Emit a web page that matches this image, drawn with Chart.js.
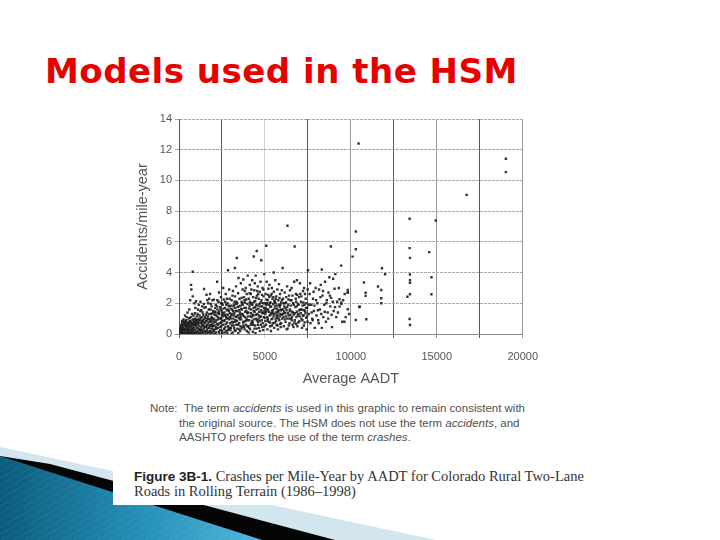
<!DOCTYPE html>
<html>
<head>
<meta charset="utf-8">
<title>Models used in the HSM</title>
<script src="https://cdn.jsdelivr.net/npm/chart.js@4.4.1/dist/chart.umd.min.js"></script>
<style>
body{margin:0;width:720px;height:540px;overflow:hidden;background:#fff;position:relative;font-family:"Liberation Sans",Arial,sans-serif}
#deco{position:absolute;left:0;top:0}
#figure{position:absolute;left:113px;top:95px;width:477px;height:410px;background:#fff}
h1{position:absolute;left:45px;top:51px;margin:0;font:bold 34px "DejaVu Sans",Verdana,sans-serif;letter-spacing:0.5px;color:#e60000;white-space:nowrap}
#plot{position:absolute;left:120px;top:100px;width:430px;height:295px}
.note{position:absolute;left:150px;top:401px;font-size:11.5px;line-height:14.5px;color:#505050;white-space:nowrap}
.note div{padding-left:29px}
.note div.first{padding-left:0}
.caption{position:absolute;left:134px;top:469px;font:14.5px "Liberation Serif","Times New Roman",serif;line-height:14.3px;color:#333;white-space:nowrap}
.caption b{font:bold 13.5px "Liberation Sans",Arial,sans-serif;color:#222}
</style>
</head>
<body>
<svg id="deco" width="720" height="540">
  <defs>
    <linearGradient id="blue" x1="0" y1="0" x2="1" y2="0">
      <stop offset="0" stop-color="#0b5c7c"/>
      <stop offset="0.55" stop-color="#2590b8"/>
      <stop offset="1" stop-color="#52b6dc"/>
    </linearGradient>
    <pattern id="hatch" width="6" height="6" patternUnits="userSpaceOnUse" patternTransform="rotate(60)">
      <line x1="0" y1="0" x2="0" y2="6" stroke="#ffffff" stroke-opacity="0.12" stroke-width="1"/>
    </pattern>
  </defs>
  <polygon points="0,447 436,540 0,540" fill="#d3e6ef"/>
  <polygon points="50,464 335,540 0,540 0,456" fill="#050505"/>
  <polygon points="0,456 262,540 0,540" fill="url(#blue)"/>
  <polygon points="0,456 262,540 0,540" fill="url(#hatch)"/>
</svg>
<div id="figure"></div>
<h1>Models used in the HSM</h1>
<div id="plot"><canvas id="scatterChart"></canvas></div>
<div class="note">
  <div class="first">Note:&nbsp; The term <i>accidents</i> is used in this graphic to remain consistent with</div>
  <div>the original source. The HSM does not use the term <i>accidents</i>, and</div>
  <div>AASHTO prefers the use of the term <i>crashes</i>.</div>
</div>
<div class="caption">
  <b>Figure 3B-1.</b> Crashes per Mile-Year by AADT for Colorado Rural Two-Lane<br>
  Roads in Rolling Terrain (1986–1998)
</div>
<script>
// Axes
const xTickValues = [0, 2500, 5000, 7500, 10000, 12500, 15000, 17500, 20000];
const xTickLabels = [0, 5000, 10000, 15000, 20000];
const yTickValues = [0, 2, 4, 6, 8, 10, 12, 14];

// Points, [AADT, accidents/mile-year], by AADT band
const band0k = [
  [60,0.05],[80,0.2],[100,0.1],[120,0.35],[140,0.05],[150,0.5],[170,0.2],[190,0.7],[200,0.1],[220,0.4],
  [240,0.25],[250,0.6],[270,0.05],[290,0.8],[300,0.3],[320,0.15],[340,0.55],[350,0.7],[370,0.1],[390,0.45],
  [400,0.25],[420,0.9],[440,0.05],[450,0.6],[470,0.35],[490,0.15],[500,0.75],[520,0.5],[540,0.2],[560,1.0],
  [570,0.4],[590,0.05],[610,0.65],[620,0.3],[640,0.85],[660,0.15],[680,0.5],[700,1.1],[710,0.25],[730,0.7],
  [750,0.4],[760,0.05],[780,0.9],[800,0.6],[820,0.2],[840,1.2],[850,0.45],[870,0.8],[890,0.1],[900,0.35],
  [920,1.0],[940,0.6],[960,0.25],[980,0.75],[1000,0.5],
  [90,0.45],[160,0.3],[230,0.0],[310,0.6],[380,0.85],[460,0.0],[530,0.3],[600,0.8],[670,0.0],[740,0.6],
  [810,0.35],[880,0.0],[950,0.9],[430,0.5],[580,0.15],[690,0.75],[830,0.95],[110,0.0],[330,0.0],[480,0.02],
  [650,0.0],[860,0.02],[260,0.95],[180,0.85],
  [70,0.3],[130,0.6],[210,0.5],[280,0.35],[360,0.3],[410,0.7],[510,0.0],[550,0.65],[630,0.5],[720,0.1],
  [770,0.3],[790,0.7],[860,0.6],[910,0.75],[970,0.1],[990,0.95],[50,0.15],[200,0.8],[450,1.1],[620,1.05],
  [760,1.3],[930,1.35],
  [800,4.05],[700,3.2],[720,2.9],[800,2.45],[990,2.13],[650,2.2],[600,1.6],[500,1.4],[350,1.2],[900,2.0],[950,1.7]
];
const band1k = [
  [1020,0.1],[1040,0.85],[1060,0.4],[1080,1.3],[1100,0.2],[1120,0.65],[1140,1.0],[1160,0.05],[1180,0.5],[1200,0.3],
  [1220,0.9],[1240,1.5],[1260,0.15],[1280,0.7],[1300,0.45],[1320,1.1],[1340,0.25],[1360,0.8],[1380,0.05],[1400,0.55],
  [1420,1.25],[1440,0.35],[1460,0.95],[1480,1.7],[1500,0.2],[1520,0.7],[1540,1.05],[1560,0.45],[1580,0.1],[1600,0.85],
  [1620,1.4],[1640,0.3],[1660,0.6],[1680,1.15],[1700,0.05],[1720,0.75],[1740,0.4],[1760,1.3],[1780,0.95],[1800,0.2],
  [1820,0.55],[1840,1.6],[1860,0.85],[1880,0.35],[1900,1.1],[1920,0.65],[1940,0.15],[1960,1.35],[1980,0.5],[2000,0.9],
  [1010,0.6],[1090,0.0],[1170,0.75],[1230,0.25],[1310,0.0],[1390,0.9],[1470,0.5],[1530,0.0],[1610,0.2],[1690,0.95],
  [1770,0.15],[1830,1.0],[1890,0.0],[1970,0.3],[1130,0.35],[1350,0.6],[1570,0.85],[1790,0.55],
  [1030,1.15],[1070,0.7],[1110,0.9],[1190,1.2],[1210,0.0],[1270,1.05],[1290,0.3],[1330,0.85],[1370,1.4],[1410,0.15],
  [1430,0.75],[1490,1.1],[1510,0.45],[1590,1.25],[1630,0.55],[1650,1.0],[1710,0.4],[1730,1.6],[1810,0.8],[1850,0.05],
  [1870,1.3],[1910,0.5],[1930,1.0],[1990,1.5],
  [1150,1.9],[1250,2.1],[1350,1.8],[1460,2.93],[1600,2.56],[1700,2.0],[1750,2.3],[1850,1.95],[1950,2.2],[1100,1.6],
  [1300,1.55],[1550,1.75],[1900,1.8],[1450,1.95],[1650,2.2],[1810,2.6]
];
const band2k = [
  [2020,0.2],[2040,1.0],[2060,0.55],[2080,1.45],[2100,0.3],[2120,0.8],[2140,1.9],[2160,0.1],[2180,1.2],[2200,0.65],
  [2220,3.4],[2240,1.6],[2260,0.4],[2280,0.95],[2300,2.1],[2320,0.15],[2340,1.3],[2360,0.7],[2380,1.75],[2400,0.25],
  [2420,1.05],[2440,2.4],[2460,0.5],[2480,1.5],[2500,0.85],[2520,0.05],[2540,1.9],[2560,1.15],[2580,0.6],[2600,2.25],
  [2620,0.3],[2640,1.4],[2660,0.9],[2680,1.7],[2700,0.45],[2720,2.6],[2740,1.1],[2760,0.2],[2780,1.55],[2800,0.75],
  [2820,2.0],[2840,1.25],[2850,4.15],[2860,0.5],[2880,1.85],[2900,0.95],[2920,2.9],[2940,0.35],[2960,1.35],[2980,0.7],
  [3000,1.65],[2050,0.0],[2150,0.45],[2250,1.1],[2350,0.0],[2450,0.75],[2550,1.35],[2650,0.1],[2750,1.9],[2850,0.25],
  [2950,2.3],[2110,1.7],[2310,1.45],[2510,2.0],[2710,1.25],[2910,1.5],[2330,2.7],[2570,3.0],[2230,2.2],[2030,2.24],
  [2010,0.75],[2070,1.25],[2090,0.0],[2130,1.4],[2170,0.9],[2190,0.35],[2210,1.8],[2270,0.6],[2290,1.35],[2370,1.0],
  [2390,0.45],[2410,1.6],[2430,2.0],[2470,1.0],[2490,0.2],[2530,1.25],[2590,1.65],[2610,0.85],[2630,0.35],[2670,1.2],
  [2690,2.1],[2730,0.65],[2770,1.0],[2790,2.3],[2810,0.05],[2830,1.6],[2870,1.05],[2890,0.4],[2930,1.8],[2970,1.1],
  [2990,0.25]
];
const band3k = [
  [3020,0.4],[3040,1.2],[3060,2.2],[3080,0.8],[3100,1.6],[3120,0.1],[3140,2.8],[3160,1.0],[3180,0.55],[3200,1.9],
  [3220,1.35],[3240,0.25],[3250,4.3],[3260,2.45],[3280,0.9],[3300,1.5],[3320,3.1],[3340,0.6],[3360,1.15],[3365,4.95],
  [3380,2.0],[3400,0.35],[3420,1.75],[3440,2.65],[3460,3.65],[3480,1.05],[3500,0.7],[3520,2.3],[3540,1.4],[3560,0.2],
  [3580,1.85],[3600,3.3],[3620,0.95],[3640,2.1],[3660,1.6],[3680,0.45],[3700,2.9],[3720,1.25],[3740,3.55],[3760,0.8],
  [3780,2.4],[3800,1.7],[3820,0.3],[3840,2.05],[3860,1.1],[3880,3.0],[3900,0.6],[3920,1.5],[3940,2.6],[3960,0.9],
  [3980,1.95],[4000,3.8],[3050,0.0],[3150,1.5],[3250,0.8],[3350,2.1],[3450,0.05],[3550,1.25],[3650,2.35],[3750,0.55],
  [3850,1.45],[3950,0.2],[3110,2.5],[3310,1.1],[3510,1.55],[3710,1.9],[3910,2.25],[3170,1.8],[3570,0.5],[3830,2.8],
  [3010,1.0],[3030,1.85],[3070,0.55],[3090,1.3],[3130,0.75],[3190,1.2],[3210,0.4],[3230,2.1],[3270,1.7],[3290,0.2],
  [3330,1.95],[3370,0.85],[3390,1.5],[3410,1.2],[3430,0.6],[3470,1.8],[3490,0.3],[3530,0.95],[3590,1.1],[3610,1.65],
  [3630,0.35],[3670,1.3],[3690,2.0],[3730,0.75],[3770,1.15],[3790,0.45],[3810,2.2],[3870,0.85],[3890,1.7],[3930,1.0],
  [3970,1.35],[3990,0.5]
];
const band4k = [
  [4020,0.5],[4040,1.4],[4060,2.3],[4080,0.9],[4100,1.8],[4120,3.2],[4140,0.3],[4160,1.15],[4180,2.6],[4200,1.6],
  [4220,0.7],[4240,2.0],[4260,3.5],[4280,1.25],[4300,0.15],[4320,2.4],[4340,1.7],[4350,5.05],[4360,0.95],[4380,2.85],
  [4400,1.45],[4420,0.55],[4440,2.15],[4460,3.8],[4480,1.0],[4500,1.9],[4520,0.35],[4525,5.4],[4540,2.5],[4560,1.3],
  [4580,3.1],[4600,0.8],[4620,1.65],[4640,2.3],[4660,0.4],[4680,1.95],[4700,2.75],[4720,1.1],[4740,3.4],[4760,0.6],
  [4780,1.55],[4790,4.8],[4800,2.2],[4820,0.9],[4840,1.8],[4860,3.0],[4880,1.35],[4900,0.25],[4920,2.45],[4940,1.7],
  [4960,3.9],[4980,1.05],[5000,2.0],[4050,0.1],[4150,1.95],[4250,0.85],[4350,1.5],[4450,0.05],[4550,2.8],[4650,1.2],
  [4750,2.05],[4850,0.45],[4950,1.45],[4110,2.65],[4310,0.6],[4510,1.6],[4710,0.2],[4910,2.9],[4410,3.3],[4610,2.6],
  [4210,2.9],
  [4030,1.15],[4070,1.65],[4090,0.4],[4130,2.1],[4170,0.6],[4190,1.35],[4230,1.1],[4270,1.9],[4290,0.75],[4330,1.2],
  [4370,2.1],[4390,0.35],[4430,1.75],[4470,1.25],[4490,2.35],[4530,0.9],[4570,1.85],[4590,0.6],[4630,1.0],[4670,1.45],
  [4690,0.85],[4730,1.8],[4770,1.15],[4810,1.4],[4830,2.55],[4870,0.7],[4890,2.0],[4930,1.1],[4970,0.5],[4990,1.6]
];
const band5k = [
  [5020,1.3],[5040,2.6],[5060,0.6],[5076,5.75],[5080,1.9],[5100,3.4],[5120,1.1],[5140,0.3],[5160,2.2],[5180,1.6],
  [5200,2.95],[5220,0.8],[5240,1.45],[5260,3.2],[5280,2.0],[5300,0.5],[5320,1.25],[5340,2.5],[5360,1.8],[5380,0.95],
  [5400,3.0],[5420,1.5],[5440,2.3],[5460,0.7],[5480,1.95],[5500,1.15],[5510,4.0],[5520,2.75],[5540,0.4],[5560,1.65],
  [5580,2.1],[5600,3.5],[5620,1.0],[5640,1.4],[5660,2.45],[5680,0.6],[5700,1.85],[5720,2.9],[5740,1.2],[5760,0.3],
  [5780,2.2],[5800,1.55],[5820,3.25],[5840,0.9],[5860,1.75],[5880,2.6],[5900,1.3],[5920,0.45],[5940,2.05],[5960,1.6],
  [5980,2.85],[6000,1.0],[5050,1.7],[5150,0.9],[5250,2.4],[5350,0.2],[5450,1.35],[5550,2.15],[5650,0.85],[5750,1.5],
  [5850,2.35],[5950,0.7],[5110,2.0],[5310,1.75],[5710,1.05],[5910,1.9],[5410,0.55],[5610,2.0],
  [5030,0.85],[5070,1.45],[5090,2.25],[5130,1.55],[5170,1.0],[5190,2.55],[5230,1.9],[5270,1.2],[5290,0.75],[5330,2.05],
  [5370,1.35],[5390,2.6],[5430,1.0],[5470,1.55],[5490,2.4],[5530,1.3],[5570,0.75],[5590,1.8],[5630,2.3],[5670,1.2],
  [5690,1.65],[5730,0.55],[5770,1.4],[5790,1.0],[5830,1.9],[5870,1.15],[5890,0.65],[5930,1.55],[5970,1.25],[5990,2.2]
];
const band6k = [
  [6030,4.3],[6050,2.3],[6080,1.1],[6100,0.5],[6120,1.8],[6150,2.7],[6180,1.35],[6200,0.8],[6230,2.05],[6260,1.55],
  [6290,3.1],[6310,7.05],[6320,0.35],[6350,1.9],[6380,1.2],[6400,2.5],[6430,0.7],[6460,1.6],[6490,2.2],[6520,1.0],
  [6550,3.0],[6580,1.45],[6610,0.6],[6640,2.0],[6670,1.25],[6700,3.4],[6730,5.7],[6740,0.9],[6770,1.75],[6800,2.6],
  [6830,1.1],[6860,3.5],[6890,0.5],[6920,1.95],[6950,1.3],[6980,2.4],[7010,0.85],[7040,3.3],[7070,1.6],[7100,2.1],
  [7130,1.0],[7160,0.4],[7190,1.85],[7220,2.8],[7250,1.2],[7280,3.0],[7310,0.75],[7340,1.5],[7370,2.3],[7400,1.05],
  [7430,0.3],[7460,1.7],[7490,2.9],[6060,1.6],[6260,0.3],[6460,2.85],[6660,0.45],[6860,1.45],[7060,2.6],[7260,0.55],
  [6160,2.0],[6560,0.9],[6960,1.9],[7360,1.35],[6420,1.0],[6820,2.1],
  [6040,1.3],[6090,2.0],[6110,1.45],[6140,0.95],[6190,1.7],[6220,1.15],[6240,2.4],[6280,1.0],[6300,1.75],[6340,1.35],
  [6370,2.25],[6390,0.55],[6440,1.5],[6480,1.25],[6510,1.85],[6540,2.2],[6570,1.1],[6600,2.5],[6630,1.4],[6680,1.9],
  [6710,0.75],[6760,1.35],[6790,2.3],[6810,0.65],[6850,1.8],[6880,2.55],[6910,1.2],[6940,0.75],[7000,1.55],[7030,1.15],
  [7090,1.35],[7120,2.45],[7150,1.6],[7180,0.9],[7210,1.2],[7240,2.05],[7270,1.55],[7300,1.9],[7330,2.6],[7390,1.7],
  [7420,2.0],[7450,1.15],[7480,0.8]
];
const band7k = [
  [7510,4.15],[7550,1.3],[7600,2.6],[7650,0.7],[7700,1.9],[7750,1.0],[7800,2.3],[7850,1.5],[7900,0.4],[7950,3.0],
  [8000,1.2],[8050,2.0],[8100,0.9],[8150,2.9],[8200,1.6],[8250,3.2],[8310,4.2],[8310,0.4],[8350,2.5],[8400,1.1],
  [8450,1.9],[8500,3.4],[8550,0.8],[8600,2.2],[8650,1.4],[8700,2.7],[8750,3.7],[8800,1.8],[8840,5.7],[8850,2.35],
  [8900,0.45],[8970,3.6],[9000,1.5],[9050,2.95],[9100,3.9],[9150,1.1],[9200,2.1],[9340,2.26],[9340,1.78],[9436,4.45],
  [9436,2.04],[9450,1.95],[9500,0.8],[9625,0.8],[9640,2.6],[9817,2.87],[9817,2.69],[9817,1.61],[9830,2.71],[9900,1.3],
  [7580,1.9],[7630,3.3],[7720,1.4],[7780,0.9],[7830,2.75],[7880,1.85],[7980,2.2],[8080,1.55],[8130,0.7],[8230,2.4],
  [8280,1.3],[8380,2.8],[8480,1.45],[8580,2.0],[8680,1.0],[8780,2.5],[8880,1.25],[8950,2.1],[9080,1.75],[9250,1.4],
  [9300,3.0],[9550,2.2],[9700,1.1]
];
const band10k = [
  [10100,5.04],[10290,6.67],[10290,5.52],[10290,0.91],[10450,12.4],[10490,1.76],[10520,1.78],[10760,3.35],[10860,2.69],
  [10860,2.48],[10900,0.96],[11580,3.09],[11770,2.87],[11770,2.33],[11770,2.0],[11810,4.28],[11990,3.89]
];
const band12k = [
  [13420,7.5],[13420,5.59],[13440,4.96],[13440,3.87],[13440,3.5],[13440,3.33],[13440,2.59],[13290,2.43],[13420,0.98],
  [13440,0.59],[14940,7.39],[14560,5.33],[14690,3.7],[14690,2.59],[16740,9.06],[19020,11.41],[19020,10.54]
];

const points = [band0k, band1k, band2k, band3k, band4k, band5k, band6k, band7k, band10k, band12k]
  .flat().map(([x, y]) => ({x, y}));

// vertical rules in the scan alternate dark / light
function xGridColor(ctx) {
  const v = ctx.tick.value;
  if (v === 0) return '#555';
  if (v % 5000 === 2500) return '#5a5a5a';
  if (v === 5000) return '#d0d0d0';
  return '#9a9a9a';
}

const ctx = document.getElementById('scatterChart').getContext('2d');
new Chart(ctx, {
  type: 'scatter',
  data: {
    datasets: [{
      label: 'Accidents/mile-year',
      data: points,
      pointStyle: 'rect',
      pointRadius: 1.7,
      backgroundColor: 'rgba(30,30,30,0.9)',
      borderWidth: 0
    }]
  },
  options: {
    responsive: true,
    maintainAspectRatio: false,
    animation: false,
    layout: {padding: {top: 19, right: 19, left: 0, bottom: 0}},
    plugins: {legend: {display: false}, tooltip: {enabled: false}},
    scales: {
      x: {
        type: 'linear', min: 0, max: 20000,
        afterBuildTicks: s => { s.ticks = xTickValues.map(v => ({value: v})); },
        afterFit: s => { s.height = 61; },
        ticks: {
          callback: v => xTickLabels.includes(v) ? String(v) : '',
          color: '#555', font: {family: 'Liberation Sans', size: 11},
          padding: 12, maxRotation: 0, autoSkip: false
        },
        grid: {color: xGridColor, lineWidth: 1, tickLength: 4},
        border: {color: '#8a8a8a'},
        title: {
          display: true, text: 'Average AADT', color: '#555',
          font: {family: 'Liberation Sans', size: 14.5}, padding: {top: 0, bottom: 7}
        }
      },
      y: {
        min: 0, max: 14,
        afterBuildTicks: s => { s.ticks = yTickValues.map(v => ({value: v})); },
        afterFit: s => { s.width = 59; },
        ticks: {color: '#555', font: {family: 'Liberation Sans', size: 11}, padding: 3},
        grid: {color: ctx => ctx.tick.value === 0 ? '#888' : '#a8a8a8', lineWidth: 1, tickLength: 4},
        border: {color: '#555', dash: [3, 1]},
        title: {
          display: true, text: 'Accidents/mile-year', color: '#555',
          font: {family: 'Liberation Sans', size: 14.5}, padding: {top: 14, bottom: 0}
        }
      }
    }
  }
});
</script>
</body>
</html>
